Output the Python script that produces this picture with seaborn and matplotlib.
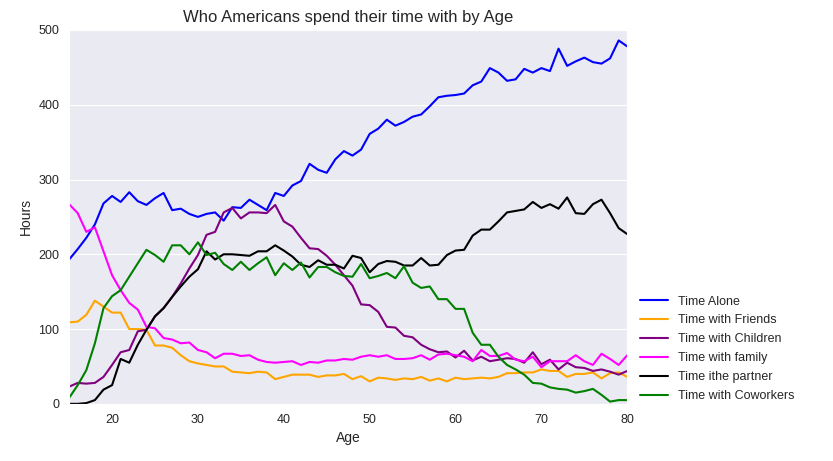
import numpy as np
import pandas as pd
import matplotlib
matplotlib.use('Agg')
import matplotlib.pyplot as plt
import seaborn as sns

ages = list(range(15, 81))

time_alone = [193, 207, 222, 240, 268, 278, 270, 283, 271, 266, 275, 282, 259, 261, 254, 250,
              254, 256, 245, 263, 262, 273, 266, 259, 282, 278, 292, 298, 321, 313, 309, 327,
              338, 332, 340, 361, 368, 380, 372, 377, 384, 387, 398, 410, 412, 413, 415,
              426, 431, 449, 443, 432, 434, 448, 443, 449, 445, 475, 452, 458, 463, 457, 455,
              462, 486, 478]
time_friends = [109, 110, 119, 138, 130, 122, 122, 100, 100, 99, 78, 78, 75, 65, 57, 54,
                52, 50, 50, 43, 42, 41, 43, 42, 33, 36, 39, 39, 39, 36, 38, 38,
                40, 33, 37, 30, 35, 34, 32, 34, 33, 36, 31, 34, 30, 35, 33, 34,
                35, 34, 36, 41, 41, 42, 42, 46, 44, 44, 36, 40, 40, 42, 34, 41,
                42, 36]
time_children = [23, 28, 27, 28, 36, 52, 69, 72, 97, 99, 117, 128, 143, 161, 181, 199,
                 226, 230, 256, 262, 248, 256, 256, 255, 266, 244, 237, 222, 208, 207, 198, 186,
                 172, 158, 133, 132, 123, 103, 102, 91, 89, 79, 73, 69, 70, 62, 71, 58,
                 63, 57, 59, 61, 60, 55, 69, 53, 59, 46, 55, 49, 48, 44, 46, 43,
                 39, 44]
time_family = [267, 255, 230, 236, 204, 172, 152, 135, 126, 103, 101, 88, 86, 81, 82, 72,
               69, 61, 67, 67, 64, 65, 59, 56, 55, 56, 57, 52, 56, 55, 58, 58,
               60, 59, 63, 65, 63, 65, 60, 60, 61, 65, 59, 66, 67, 65, 63, 57,
               72, 64, 64, 68, 59, 57, 63, 49, 57, 57, 57, 65, 57, 52, 67, 60,
               52, 65]
time_partner = [0, 0, 1, 5, 19, 25, 60, 55, 79, 99, 117, 128, 143, 157, 170, 180,
                204, 193, 200, 200, 199, 198, 204, 204, 212, 205, 197, 186, 183, 192, 186, 186,
                181, 198, 195, 176, 187, 191, 190, 185, 185, 195, 185, 186, 199, 205, 206, 225,
                233, 233, 244, 256, 258, 260, 270, 262, 267, 261, 276, 255, 254, 267, 273, 255,
                235, 227]
time_coworkers = [8, 25, 45, 81, 128, 144, 152, 170, 188, 206, 199, 190, 212, 212, 200, 216,
                  199, 202, 187, 179, 190, 179, 188, 196, 172, 188, 179, 189, 169, 183, 183, 176,
                  171, 170, 187, 168, 171, 175, 168, 184, 162, 155, 157, 140, 140, 127, 127, 95,
                  79, 79, 63, 52, 46, 39, 28, 27, 22, 20, 19, 15, 17, 20, 12, 3,
                  5, 5]

series_names = ['Time Alone', 'Time with Friends', 'Time with Children',
                'Time with family', 'Time ithe partner', 'Time with Coworkers']
series_values = [time_alone, time_friends, time_children,
                 time_family, time_partner, time_coworkers]
colors = ['blue', 'orange', 'purple', 'magenta', 'black', 'green']

df = pd.concat([pd.DataFrame({'Age': ages, 'Hours': vals, 'series': name})
                for name, vals in zip(series_names, series_values)])

sns.set_style('darkgrid')
plt.rcParams['font.family'] = ['Liberation Sans', 'DejaVu Sans']

fig, ax = plt.subplots(figsize=(8.33, 4.61), dpi=100)
fig.subplots_adjust(left=0.083, right=0.753, bottom=0.124, top=0.935)

sns.lineplot(data=df, x='Age', y='Hours', hue='series', hue_order=series_names,
             palette=colors, linewidth=1.5, ax=ax)

ax.set_xlim(15, 80)
ax.set_ylim(0, 500)
ax.set_xticks([20, 30, 40, 50, 60, 70, 80])
ax.set_yticks([0, 100, 200, 300, 400, 500])
ax.grid(axis='x', visible=False)
ax.tick_params(labelsize=9, colors='#262626')
ax.set_xlabel('Age', fontsize=10, color='#262626')
ax.set_ylabel('Hours', fontsize=10, color='#262626')
ax.set_title('Who Americans spend their time with by Age', fontsize=12, color='#262626')

ax.legend(loc='lower left', bbox_to_anchor=(1.003, -0.025), frameon=False,
          fontsize=9, handlelength=2.2, labelspacing=0.55)

plt.savefig('out.png', dpi=100)
